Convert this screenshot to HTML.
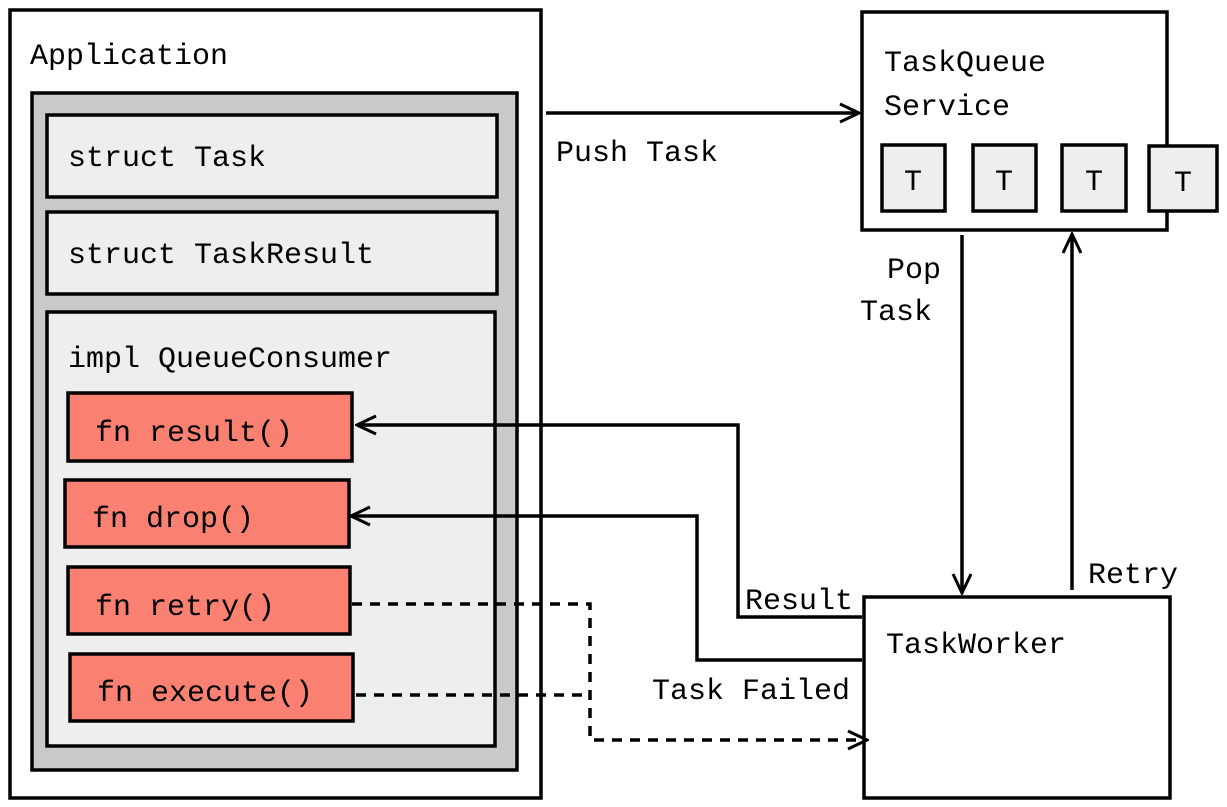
<!DOCTYPE html>
<html><head><meta charset="utf-8"><style>
html,body{margin:0;padding:0;background:#fff;}
svg{display:block;}
text{font-family:"Liberation Mono",monospace;font-size:30px;letter-spacing:0px;fill:#000;}
</style></head><body>
<svg width="1227" height="807" viewBox="0 0 1227 807" xmlns="http://www.w3.org/2000/svg">
<defs>
<marker id="ah" markerWidth="22" markerHeight="22" refX="19" refY="11" orient="auto" markerUnits="userSpaceOnUse">
<path d="M1,2 L20,11 L1,20" fill="none" stroke="#000" stroke-width="3"/>
</marker>
</defs>
<g stroke="#000" stroke-width="3.5">
<rect x="10" y="10" width="531" height="788" fill="#fff"/>
<rect x="32" y="93" width="485" height="677" fill="#c9c9c9"/>
<rect x="47" y="115" width="450" height="82" fill="#eeeeee"/>
<rect x="47" y="212" width="450" height="82" fill="#eeeeee"/>
<rect x="47" y="312" width="448" height="434" fill="#eeeeee"/>
<rect x="68" y="393" width="284" height="68" fill="#fa8072"/>
<rect x="65" y="480" width="284" height="67" fill="#fa8072"/>
<rect x="68" y="567" width="282" height="67" fill="#fa8072"/>
<rect x="70" y="654" width="283" height="67" fill="#fa8072"/>
<rect x="862" y="12" width="305" height="218" fill="#fff"/>
<rect x="882" y="145" width="63" height="66" fill="#eeeeee"/>
<rect x="973" y="145" width="63" height="66" fill="#eeeeee"/>
<rect x="1062" y="145" width="64" height="66" fill="#eeeeee"/>
<rect x="1149" y="146" width="68" height="65" fill="#eeeeee"/>
<rect x="864" y="597" width="306" height="201" fill="#fff"/>
</g>
<g stroke="#000" stroke-width="3.5" fill="none">
<path d="M546,113 L858,113" marker-end="url(#ah)"/>
<path d="M962,235 L962,592" marker-end="url(#ah)"/>
<path d="M1072,590 L1072,235" marker-end="url(#ah)"/>
<path d="M862,617 L738,617 L738,425 L358,425" marker-end="url(#ah)"/>
<path d="M862,660 L697,660 L697,516 L352,516" marker-end="url(#ah)"/>
<path d="M352,604 L590,604 L590,740 L866,740" stroke-dasharray="10,8" marker-end="url(#ah)"/>
<path d="M356,695 L590,695" stroke-dasharray="10,8"/>
</g>
<text x="30" y="64">Application</text>
<text x="68" y="166">struct Task</text>
<text x="68" y="263">struct TaskResult</text>
<text x="68" y="367">impl QueueConsumer</text>
<text x="95" y="441">fn result()</text>
<text x="92" y="527">fn drop()</text>
<text x="95" y="615">fn retry()</text>
<text x="97" y="701">fn execute()</text>
<text x="884" y="71">TaskQueue</text>
<text x="884" y="115">Service</text>
<text x="904" y="190">T</text><text x="995" y="190">T</text><text x="1085" y="190">T</text><text x="1174" y="191">T</text>
<text x="556" y="161">Push Task</text>
<text x="887" y="278">Pop</text>
<text x="860" y="320">Task</text>
<text x="1088" y="583">Retry</text>
<text x="745" y="609">Result</text>
<text x="652" y="699">Task Failed</text>
<text x="886" y="653">TaskWorker</text>
</svg>
</body></html>
